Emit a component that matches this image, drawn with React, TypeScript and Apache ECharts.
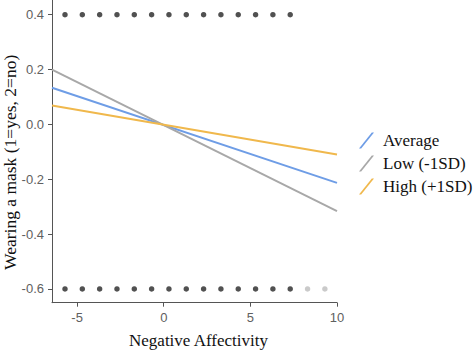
import React, { useEffect, useRef } from "react";
import * as echarts from "echarts";

const seriesNames = ["Average", "Low (-1SD)", "High (+1SD)"];
const seriesColors = ["#6e9de6", "#a8a8a8", "#f0b84c"];
const lineX = [-6.45, 10];
const averageLine = [0.134, -0.213];
const lowLine = [0.2, -0.316];
const highLine = [0.069, -0.11];

const topDotsX = [-5.7, -4.7, -3.7, -2.7, -1.7, -0.7, 0.3, 1.3, 2.3, 3.3, 4.3, 5.3, 6.3, 7.3];
const topDotsY = 0.4;
const bottomDotsDarkX = [-5.7, -4.7, -3.7, -2.7, -1.7, -0.7, 0.3, 1.3, 2.3, 3.3, 4.3, 5.3, 6.3, 7.3];
const bottomDotsLightX = [8.3, 9.3];
const bottomDotsY = -0.6;

const xTicks = [-5, 0, 5, 10];
const yTicks = [-0.6, -0.4, -0.2, 0, 0.2, 0.4];

export default function App() {
  const ref = useRef<HTMLDivElement>(null);
  useEffect(() => {
    if (!ref.current) return;
    const chart = echarts.init(ref.current, null, { renderer: "svg" });
    const lines = [averageLine, lowLine, highLine];
    const slash = "path://M0,16 L2.2,16 L15,0 L12.8,0 Z";
    chart.setOption({
      animation: false,
      backgroundColor: "#ffffff",
      grid: {
        left: 52,
        right: 137,
        top: 0,
        bottom: 48.3,
        containLabel: false,
        outerBoundsMode: "none",
      },
      legend: {
        orient: "vertical",
        left: 359,
        top: 130,
        padding: 0,
        itemWidth: 15,
        itemHeight: 16,
        itemGap: 2,
        data: seriesNames.map((n) => ({ name: n, icon: slash })),
        textStyle: {
          fontFamily: "Liberation Serif",
          fontSize: 17,
          color: "#111",
          lineHeight: 21,
          padding: [0, 0, 0, 4],
        },
      },
      xAxis: {
        type: "value",
        min: -6.45,
        max: 10,
        name: "Negative Affectivity",
        nameLocation: "middle",
        nameGap: 29,
        nameMoveOverlap: false,
        nameTextStyle: {
          fontFamily: "Liberation Serif",
          fontSize: 17,
          color: "#111",
          padding: [0, 0, 0, 8],
        },
        splitLine: { show: false },
        axisLine: { show: true, onZero: false, lineStyle: { color: "#555", width: 1 } },
        axisTick: { show: true, length: 4, lineStyle: { color: "#555" }, customValues: xTicks },
        axisLabel: {
          customValues: xTicks,
          margin: 8,
          fontFamily: "Liberation Sans",
          fontSize: 13,
          color: "#606060",
          formatter: (v: number) => String(v),
        },
      },
      yAxis: {
        type: "value",
        min: -0.65,
        max: 0.4537,
        name: "Wearing a mask (1=yes, 2=no)",
        nameLocation: "middle",
        nameGap: 34,
        nameMoveOverlap: false,
        nameTextStyle: {
          fontFamily: "Liberation Serif",
          fontSize: 17.5,
          lineHeight: 17,
          color: "#111",
          padding: [0, 22, 0, 0],
        },
        splitLine: { show: false },
        axisLine: { show: true, onZero: false, lineStyle: { color: "#555", width: 1 } },
        axisTick: { show: true, length: 4, lineStyle: { color: "#555" }, customValues: yTicks },
        axisLabel: {
          customValues: yTicks,
          margin: 8,
          fontFamily: "Liberation Sans",
          fontSize: 13,
          color: "#606060",
          formatter: (v: number) => v.toFixed(1),
        },
      },
      series: [
        ...seriesNames.map((n, i) => ({
          name: n,
          type: "line",
          data: lineX.map((x, j) => [x, lines[i][j]]),
          showSymbol: false,
          symbol: "none",
          itemStyle: { color: seriesColors[i] },
          lineStyle: { color: seriesColors[i], width: 2 },
          z: 3,
        })),
        {
          name: "dotsTop",
          type: "scatter",
          data: topDotsX.map((x) => [x, topDotsY]),
          symbolSize: 5.5,
          itemStyle: { color: "#262626" },
        },
        {
          name: "dotsBottom",
          type: "scatter",
          data: bottomDotsDarkX.map((x) => [x, bottomDotsY]),
          symbolSize: 5.5,
          itemStyle: { color: "#262626" },
        },
        {
          name: "dotsBottomLight",
          type: "scatter",
          data: bottomDotsLightX.map((x) => [x, bottomDotsY]),
          symbolSize: 5.5,
          itemStyle: { color: "#bdbdbd" },
        },
      ],
    });
    return () => chart.dispose();
  }, []);
  return <div ref={ref} style={{ width: 474, height: 351, position: "absolute", left: 0, top: 0 }} />;
}
